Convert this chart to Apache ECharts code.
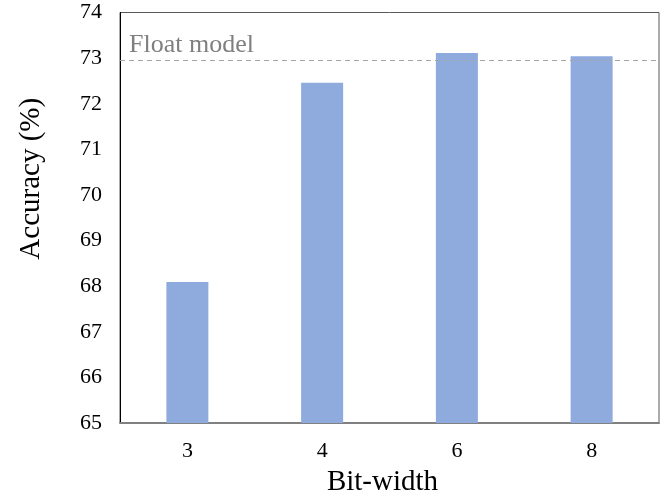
<!DOCTYPE html>
<html>
<head>
<meta charset="utf-8">
<script src="https://cdn.jsdelivr.net/npm/echarts@6/dist/echarts.min.js"></script>
<style>
html,body{margin:0;padding:0;background:#fff;}
#chart{width:664px;height:498px;}
</style>
</head>
<body>
<div id="chart"></div>
<script>
const categories = ['3', '4', '6', '8'];
const accuracy = [68.09, 72.46, 73.11, 73.04];
const floatModel = 72.96;
const yTicks = [65, 66, 67, 68, 69, 70, 71, 72, 73, 74];

const FONT = "'Liberation Serif', 'Times New Roman', serif";
const chart = echarts.init(document.getElementById('chart'), null, {renderer: 'canvas'});
chart.setOption({
  animation: false,
  backgroundColor: '#fff',
  grid: {
    left: 120, right: 5, top: 12.5, bottom: 75,
    outerBoundsMode: 'none',
    containLabel: false,
    show: true, borderColor: '#595959', borderWidth: 1, backgroundColor: 'transparent'
  },
  xAxis: {
    type: 'category',
    data: categories,
    name: 'Bit-width',
    nameLocation: 'middle',
    nameGap: 45,
    nameTextStyle: {fontFamily: FONT, fontSize: 29, color: '#000', padding: [0, 14, 0, 0]},
    axisLine: {show: true, lineStyle: {color: '#808080', width: 2}},
    axisTick: {show: false},
    axisLabel: {fontFamily: FONT, fontSize: 22, color: '#000', margin: 17},
    splitLine: {show: false}
  },
  yAxis: {
    type: 'value',
    min: yTicks[0],
    max: yTicks[yTicks.length - 1],
    interval: 1,
    name: 'Accuracy (%)',
    nameLocation: 'middle',
    nameGap: 74,
    nameTextStyle: {fontFamily: FONT, fontSize: 29, color: '#000', padding: [0, 0, 0, 78]},
    axisLine: {show: true, lineStyle: {color: '#000', width: 1}},
    axisTick: {show: false},
    axisLabel: {fontFamily: FONT, fontSize: 22, color: '#000', margin: 18},
    splitLine: {show: false}
  },
  series: [{
    type: 'bar',
    data: accuracy,
    barWidth: 42,
    itemStyle: {color: '#8FAADC'},
    markLine: {
      silent: true,
      symbol: ['none', 'none'],
      lineStyle: {type: [5, 4], color: '#A6A6A6', width: 1.2},
      label: {
        show: true,
        position: 'insideStartTop',
        formatter: 'Float model',
        fontFamily: FONT,
        fontSize: 26,
        color: '#7F7F7F',
        distance: [9, 2]
      },
      data: [{yAxis: floatModel}]
    }
  }]
});
</script>
</body>
</html>
